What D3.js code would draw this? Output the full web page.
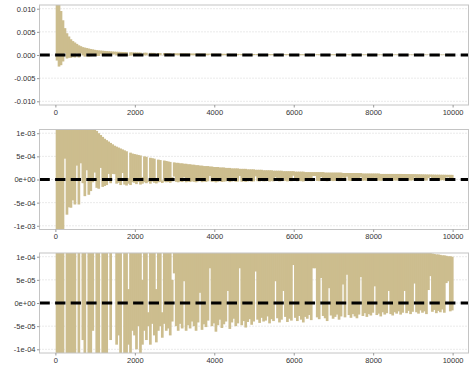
<!DOCTYPE html>
<html>
<head>
<meta charset="utf-8">
<script src="https://cdn.jsdelivr.net/npm/d3@7/dist/d3.min.js"></script>
<style>
  body { margin: 0; background: #fff; }
  svg { display: block; }
  text { font-family: "Liberation Sans", Arial, sans-serif; font-size: 7.5px; fill: #333; }
</style>
</head>
<body>
<svg id="chart" width="474" height="372"></svg>
<script>
// values are in units of 1e-5, one bin per 50 steps (0..10000)
const unit = 1e-5;
const binWidth = 50;

// highest value reached inside each bin
const hi = [
  1500, 1300, 950, 750, 580, 470, 400, 340, 300, 270,
  240, 210, 190, 170, 160, 150, 140, 130, 122, 112,
  105, 100, 96, 92, 88, 85, 82, 79, 76, 73,
  71, 69, 67, 65, 63, 61, 3, 58, 56, 55,
  54, 53, 52, 5, 50, 49, -2, 47, 46, 45,
  3, 43, 42, -2, 41, 40, 39, 38, 5, 37,
  36, 36, 35, 35, 34, 34, 33, 33, 32, 32,
  31, 31, 30, 30, 29, 29, 29, 28, 28, 27,
  27, 27, 26, 26, 26, 25, 25, 25, 24, 24,
  24, 24, 23, 23, 23, 23, 22, 22, 22, 22,
  21, 21, 21, 21, 20, 20, 20, 20, 20, 19,
  19, 19, 19, 19, 18, 18, 18, 18, 18, 18,
  17, 17, 17, 17, 17, 16, 16, 16, 16, 16,
  16, 16, 16, 16, 16, 15, 15, 15, 15, 15,
  15, 15, 15, 15, 14, 14, 14, 14, 14, 14,
  14, 14, 14, 14, 13, 13, 13, 13, 13, 13,
  13, 13, 13, 12, 12, 12, 12, 12, 12, 12,
  12, 12, 12, 12, 11.9, 11.9, 11.8, 11.8, 11.7, 11.7,
  11.6, 11.5, 11.4, 11.3, 11.2, 11.1, 11.0, 10.9, 10.8, 10.7,
  10.6, 10.5, 10.5, 10.4, 10.3, 10.3, 10.2, 10.1, 10.1, 10.0
];

// lowest value reached inside each bin
const lo = [
  -120, -250, -220, -140, 45, -76, -60, -61, -45, -54,
  30, -54, 35, -8, -36, 20, -33, -25, -6, 15,
  -18, -20, 25, -16, -14, -12, 12, -8, 12, 11.5,
  -9, -7, -12, 14, -11, -13, -9, -12, -6, -7,
  -10, -5, -11, -9, -6, -8, -5, -9, -4.5, -7,
  -8.5, -6, -5, -7.5, -4.5, -6, -5.5, -7, -4, 6.4,
  -5, -6, -4.5, -5.5, 4.7, -6, -4.8, -5.5, -4, -5,
  -6, -4.2, 2.2, -5.8, -4.6, -5.2, -3.8, 7.5, -5, -4.4,
  -6.2, -4.8, -3.6, -5.4, -4.6, -4, 2.6, -5.6, -4.2, -3.4,
  -5, -4.4, 7.5, -4.8, -3.9, -5.3, -4.1, -3.5, -4.7, -4,
  6.8, -3.6, -4.3, -3.2, -4, -3.8, -2.9, -4.4, -3.5, -3.9,
  4.7, -3.3, -4.2, -3.6, 2.6, -3, -4.1, -3.4, -3.8, 8.2,
  -3.2, -3.9, -2.8, -3.6, -4.2, -3, -3.4, -2.6, -3.7, 7.5,
  7.5, -3.1, -3.5, 5.4, -2.8, -3.3, -3.9, 3.2, -2.7, -3.4,
  -3, -2.5, -3.6, -2.9, 4, -3.1, 6.1, -2.6, -3.2, -2.4,
  -2.9, -3.3, -2.5, 5.6, -2.8, -2.2, -3, -2.4, -2.7, -2.1,
  3.6, -2.6, -2.3, -2.9, -2, -2.5, -2.2, 2.6, -2.4, -2.7,
  -2, -2.3, -1.8, -2.5, -2.1, 2.6, -2.2, -1.7, -2.4, -1.9,
  4.2, -2, -2.3, -1.6, -2.1, -1.8, -2.4, 2.8, 5.8, -1.9,
  -1.5, -2.2, -1.7, -2, -1.4, -2.1, 4.3, 4.7, -1.8, -1.6
];

const xTicks = [0, 2000, 4000, 6000, 8000, 10000];
const panelLimits = [0.01, 0.001, 0.0001];
const yTickLabels = [
  ['0.010', '0.005', '0.000', '-0.005', '-0.010'],
  ['1e-03', '5e-04', '0e+00', '-5e-04', '-1e-03'],
  ['1e-04', '5e-05', '0e+00', '-5e-05', '-1e-04']
];

const svg = d3.select('#chart');
const left = 39.5, right = 468.5, panelHeight = 100;
const panelTops = [5, 129.5, 253];
const barColor = '#ccbd8e';

const bins = hi.map((h, i) => ({ x0: i * binWidth, x1: (i + 1) * binWidth, hi: h * unit, lo: lo[i] * unit }));

const x = d3.scaleLinear().domain([-400, 10400]).range([left, right]);

panelLimits.forEach((lim, p) => {
  const top = panelTops[p];
  const bottom = top + panelHeight;
  const y = d3.scaleLinear().domain([-lim * 1.08, lim * 1.08]).range([bottom, top]);
  const ticks = [lim, lim / 2, 0, -lim / 2, -lim];

  svg.append('clipPath').attr('id', 'clip' + p)
    .append('rect')
    .attr('x', left).attr('y', top)
    .attr('width', right - left).attr('height', panelHeight);

  const grp = svg.append('g');

  // dotted grid
  grp.selectAll('.grid')
    .data(ticks)
    .enter()
    .append('line')
    .attr('x1', left).attr('x2', right)
    .attr('y1', (d) => y(d)).attr('y2', (d) => y(d))
    .attr('stroke', '#d4d4d4')
    .attr('stroke-dasharray', '1,2');

  // bars overlap a little so the bins join up, narrow gaps stay pale
  grp.append('g')
    .attr('clip-path', 'url(#clip' + p + ')')
    .selectAll('rect')
    .data(bins)
    .enter()
    .append('rect')
    .attr('x', (d) => x(d.x0) + 0.3)
    .attr('width', (d) => x(d.x1) - x(d.x0) + 0.7)
    .attr('y', (d) => Math.max(y(d.hi), top - 5))
    .attr('height', (d) => Math.max(0, Math.min(y(d.lo), bottom + 5) - Math.max(y(d.hi), top - 5)))
    .attr('fill', barColor);

  grp.append('line')
    .attr('x1', left).attr('x2', right)
    .attr('y1', y(0)).attr('y2', y(0))
    .attr('stroke', '#000')
    .attr('stroke-width', 3)
    .attr('stroke-dasharray', '10.3,5.3');

  grp.append('rect')
    .attr('x', left).attr('y', top)
    .attr('width', right - left).attr('height', panelHeight)
    .attr('fill', 'none')
    .attr('stroke', '#c4c4c4');

  const yAxis = d3.axisLeft(y)
    .tickValues(ticks)
    .tickFormat((d, i) => yTickLabels[p][i])
    .tickSize(2.5)
    .tickPadding(1.5);
  const ya = grp.append('g')
    .attr('transform', 'translate(' + left + ',0)')
    .call(yAxis);
  ya.select('.domain').remove();
  ya.selectAll('line').attr('stroke', '#999');
  ya.selectAll('text').attr('fill', '#333').style('font-size', '7.5px').attr('font-family', null);

  const xAxis = d3.axisBottom(x)
    .tickValues(xTicks)
    .tickFormat((d) => String(d))
    .tickSize(2.5)
    .tickPadding(2);
  const xa = grp.append('g')
    .attr('transform', 'translate(0,' + bottom + ')')
    .call(xAxis);
  xa.select('.domain').remove();
  xa.selectAll('line').attr('stroke', '#999');
  xa.selectAll('text').attr('fill', '#333').style('font-size', '7.5px').attr('font-family', null);
});
</script>
</body>
</html>
